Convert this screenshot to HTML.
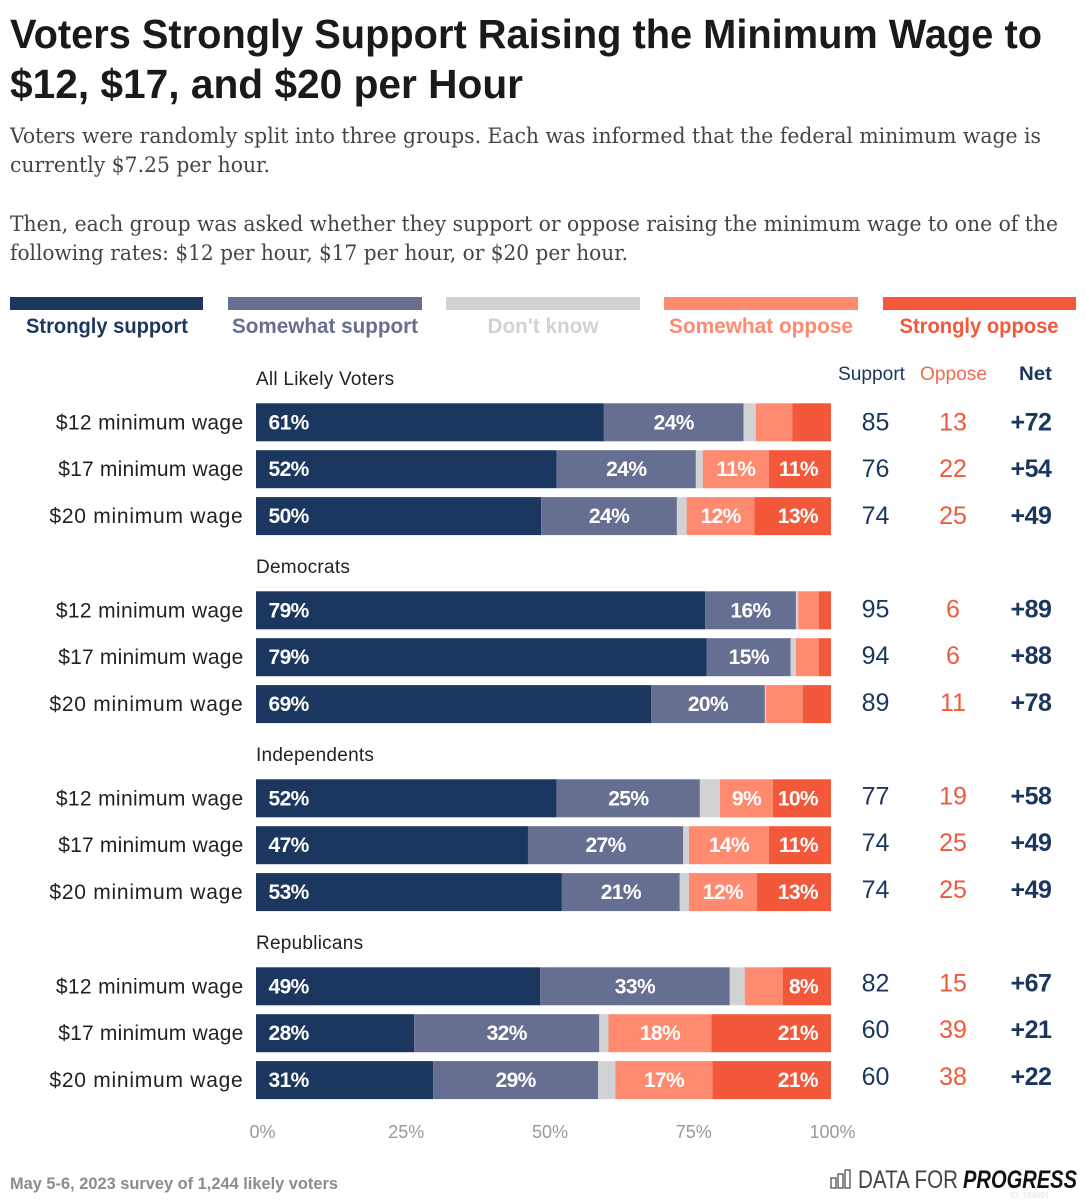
<!DOCTYPE html>
<html lang="en">
<head>
<meta charset="utf-8">
<title>Voters Strongly Support Raising the Minimum Wage</title>
<style>
html,body{margin:0;padding:0;background:#fff;width:1086px;height:1200px;overflow:hidden}
svg{display:block;font-family:"Liberation Sans",Arial,sans-serif}
.serif{font-family:"DejaVu Serif","Liberation Serif",serif}
</style>
</head>
<body>
<svg id="chart" xmlns="http://www.w3.org/2000/svg" width="1086" height="1200" viewBox="0 0 1086 1200">
  <rect x="0" y="0" width="1086" height="1200" fill="#fff"/>
  <g font-size="41" font-weight="700" fill="#1a1a1a">
    <text x="10" y="48" textLength="1032" lengthAdjust="spacingAndGlyphs">Voters Strongly Support Raising the Minimum Wage to</text>
    <text x="10" y="98" textLength="513" lengthAdjust="spacingAndGlyphs">$12, $17, and $20 per Hour</text>
  </g>
  <g class="serif" font-size="21.5" fill="#444">
    <text x="10" y="143" textLength="1031" lengthAdjust="spacingAndGlyphs">Voters were randomly split into three groups. Each was informed that the federal minimum wage is</text>
    <text x="10" y="172" textLength="260" lengthAdjust="spacingAndGlyphs">currently $7.25 per hour.</text>
    <text x="10" y="231" textLength="1048" lengthAdjust="spacingAndGlyphs">Then, each group was asked whether they support or oppose raising the minimum wage to one of the</text>
    <text x="10" y="260" textLength="618" lengthAdjust="spacingAndGlyphs">following rates: $12 per hour, $17 per hour, or $20 per hour.</text>
  </g>
  <g font-size="21" font-weight="700" text-anchor="middle">
    <rect x="10" y="297" width="193" height="13" fill="#1b365f"/>
    <text x="107" y="333" textLength="162" lengthAdjust="spacingAndGlyphs" fill="#1b365f">Strongly support</text>
    <rect x="228" y="297" width="194" height="13" fill="#666f91"/>
    <text x="325" y="333" textLength="186" lengthAdjust="spacingAndGlyphs" fill="#666f91">Somewhat support</text>
    <rect x="446" y="297" width="194" height="13" fill="#d1d2d4"/>
    <text x="543" y="333" textLength="111" lengthAdjust="spacingAndGlyphs" fill="#d1d2d4">Don't know</text>
    <rect x="664" y="297" width="194" height="13" fill="#ff8a70"/>
    <text x="761" y="333" textLength="184" lengthAdjust="spacingAndGlyphs" fill="#ff8a70">Somewhat oppose</text>
    <rect x="883" y="297" width="193" height="13" fill="#f4583a"/>
    <text x="979" y="333" textLength="159" lengthAdjust="spacingAndGlyphs" fill="#f4583a">Strongly oppose</text>
  </g>
  <g font-size="19" text-anchor="middle">
    <text x="871.5" y="380" textLength="67" lengthAdjust="spacingAndGlyphs" fill="#1b365f">Support</text>
    <text x="953.5" y="380" textLength="67" lengthAdjust="spacingAndGlyphs" fill="#f26b50">Oppose</text>
    <text x="1035.5" y="380" textLength="33" lengthAdjust="spacingAndGlyphs" fill="#1b365f" font-weight="700">Net</text>
  </g>
  <g id="plot"></g>
  <g>
    <text x="10" y="1189" font-size="17" font-weight="700" fill="#8c8c8c" textLength="328" lengthAdjust="spacingAndGlyphs">May 5-6, 2023 survey of 1,244 likely voters</text>
    <g>
      <g fill="none" stroke="#444" stroke-width="1.2">
        <rect x="831" y="1178" width="5" height="10"/>
        <rect x="838" y="1174" width="5" height="14"/>
        <rect x="845" y="1170" width="5" height="18"/>
      </g>
      <text x="858" y="1188" font-size="25" fill="#444" textLength="100" lengthAdjust="spacingAndGlyphs">DATA FOR</text>
      <text x="963" y="1188" font-size="25" font-weight="700" font-style="italic" fill="#111" textLength="114" lengthAdjust="spacingAndGlyphs">PROGRESS</text>
    </g>
    <text x="1010" y="1198" font-size="8" fill="#e2e2e2">ID: 194801</text>
  </g>
</svg>
<script>
var groupNames = ["All Likely Voters", "Democrats", "Independents", "Republicans"];
var rowLabels = ["$12 minimum wage", "$17 minimum wage", "$20 minimum wage"];

var stronglySupport = [60.5, 52.3, 49.6, 78.1, 78.4, 68.7, 52.3, 47.3, 53.2, 49.4, 27.5, 30.8];
var somewhatSupport = [24.3, 24.2, 23.6, 15.8, 14.6, 19.8, 24.9, 27.0, 20.5, 33.0, 32.2, 28.7];
var dontKnow = [2.1, 1.2, 1.7, 0.4, 0.9, 0.2, 3.5, 1.0, 1.6, 2.6, 1.6, 3.0];
var somewhatOppose = [6.4, 11.5, 11.8, 3.6, 4.0, 6.4, 9.2, 13.9, 11.8, 6.6, 17.9, 16.9];
var stronglyOppose = [6.7, 10.8, 13.3, 2.1, 2.1, 4.9, 10.1, 10.8, 12.9, 8.4, 20.8, 20.6];

var stronglySupportLabels = ["61%", "52%", "50%", "79%", "79%", "69%", "52%", "47%", "53%", "49%", "28%", "31%"];
var somewhatSupportLabels = ["24%", "24%", "24%", "16%", "15%", "20%", "25%", "27%", "21%", "33%", "32%", "29%"];
var somewhatOpposeLabels = ["", "11%", "12%", "", "", "", "9%", "14%", "12%", "", "18%", "17%"];
var stronglyOpposeLabels = ["", "11%", "13%", "", "", "", "10%", "11%", "13%", "8%", "21%", "21%"];

var supportTotals = [85, 76, 74, 95, 94, 89, 77, 74, 74, 82, 60, 60];
var opposeTotals = [13, 22, 25, 6, 6, 11, 19, 25, 25, 15, 39, 38];
var netValues = ["+72", "+54", "+49", "+89", "+88", "+78", "+58", "+49", "+49", "+67", "+21", "+22"];

var axisTicks = [0, 25, 50, 75, 100];
var axisTickLabels = ["0%", "25%", "50%", "75%", "100%"];

var seriesNames = ["strongly-support", "somewhat-support", "dont-know", "somewhat-oppose", "strongly-oppose"];
var seriesColors = ["#1b365f", "#666f91", "#d1d2d4", "#ff8a70", "#f4583a"];
var rowLabelTracking = [0.35, 0.2, 0.75];

var NS = "http://www.w3.org/2000/svg";
var plot = document.getElementById("plot");
var xStart = 256, xEnd = 831, barH = 38;

function xScale(v) { return xStart + (xEnd - xStart) * v / 100; }
function rowTop(i) { return 403.3 + i * 46.9 + Math.floor(i / 3) * 47.3; }
function rowCenter(i) { return rowTop(i) + barH / 2; }

function addText(str, x, y, size, fill, anchor, weight, spacing) {
  var t = document.createElementNS(NS, "text");
  t.setAttribute("x", x);
  t.setAttribute("y", y);
  t.setAttribute("font-size", size);
  t.setAttribute("fill", fill);
  t.setAttribute("text-anchor", anchor);
  if (weight) t.setAttribute("font-weight", weight);
  if (spacing) t.setAttribute("letter-spacing", spacing);
  t.textContent = str;
  plot.appendChild(t);
  return t;
}

groupNames.forEach(function (g, gi) {
  var t = addText(g, xStart, rowTop(gi * 3) - 18.5, 19, "#222", "start", null, 0.25);
  
  
});

var rowCount = stronglySupport.length;
var allSeries = [stronglySupport, somewhatSupport, dontKnow, somewhatOppose, stronglyOppose];

for (var i = 0; i < rowCount; i++) {
  var lab = addText(rowLabels[i % 3], 243.5, rowCenter(i) + 7, 21, "#222", "end", null, rowLabelTracking[i % 3]);
  
  

  var cum = 0;
  var edges = [];
  for (var s = 0; s < allSeries.length; s++) {
    var v = allSeries[s][i];
    var r = document.createElementNS(NS, "rect");
    r.setAttribute("x", xScale(cum));
    r.setAttribute("y", rowTop(i));
    r.setAttribute("width", xScale(cum + v) - xScale(cum));
    r.setAttribute("height", barH);
    r.setAttribute("fill", seriesColors[s]);
    
    
    plot.appendChild(r);
    edges.push([xScale(cum), xScale(cum + v)]);
    cum += v;
  }

  var y = rowCenter(i) + 7;
  var a = addText(stronglySupportLabels[i], edges[0][0] + 12.5, y, 21, "#fff", "start", 700, -0.6);
  
  

  var b = addText(somewhatSupportLabels[i], (edges[1][0] + edges[1][1]) / 2, y, 21, "#fff", "middle", 700, -0.6);
  
  

  if (somewhatOpposeLabels[i]) {
    var c = addText(somewhatOpposeLabels[i], (edges[3][0] + edges[3][1]) / 2, y, 21, "#fff", "middle", 700, -0.6);
    
    
  }
  if (stronglyOpposeLabels[i]) {
    var d = addText(stronglyOpposeLabels[i], edges[4][1] - 13, y, 21, "#fff", "end", 700, -0.6);
    
    
  }

  var totalsY = y + 1 - Math.floor(i / 3);
  var sup = addText(String(supportTotals[i]), 875.5, totalsY, 25, "#1b365f", "middle");
  
  

  var opp = addText(String(opposeTotals[i]), 953, totalsY, 25, "#ef5a3c", "middle");
  
  

  var net = addText(netValues[i], 1031, totalsY, 25, "#1b365f", "middle", 700, -0.5);
  
  
}

axisTicks.forEach(function (tick, ti) {
  var t = addText(axisTickLabels[ti], xScale(tick) + 6.5 - (tick === 100 ? 5 : 0), 1138, 18, "#999", "middle");
  
  
});
</script>
</body>
</html>
